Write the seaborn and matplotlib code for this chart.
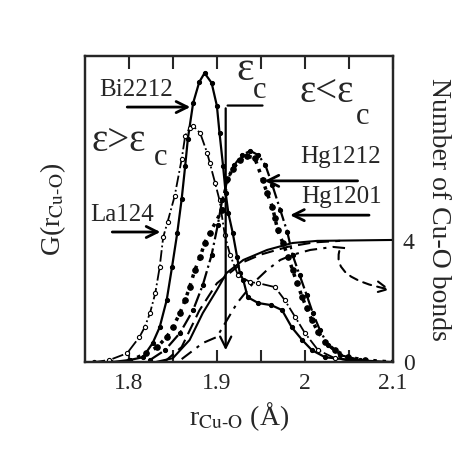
import numpy as np
import pandas as pd
import matplotlib
matplotlib.use('Agg')
import matplotlib.pyplot as plt
import seaborn as sns

# G(r) curves (left axis, arbitrary units)
bi_x = [1.78, 1.801, 1.816, 1.827, 1.835, 1.843, 1.849, 1.855, 1.860, 1.864, 1.867, 1.873, 1.880, 1.886,
        1.894, 1.900, 1.903, 1.907, 1.910, 1.913, 1.918, 1.923, 1.926, 1.930, 1.935, 1.947, 1.962, 1.974,
        1.985, 1.997, 2.008, 2.023, 2.053, 2.1]
bi_g = [0.0, 0.007, 0.016, 0.062, 0.114, 0.203, 0.310, 0.422, 0.533, 0.641, 0.729, 0.846, 0.915, 0.944,
        0.912, 0.837, 0.748, 0.641, 0.552, 0.487, 0.422, 0.343, 0.291, 0.268, 0.212, 0.193, 0.186, 0.170,
        0.114, 0.072, 0.039, 0.016, 0.007, 0.0]

la_x = [1.76, 1.778, 1.798, 1.812, 1.818, 1.824, 1.830, 1.835, 1.839, 1.844, 1.852, 1.860, 1.864, 1.869,
        1.873, 1.881, 1.889, 1.892, 1.898, 1.903, 1.909, 1.915, 1.924, 1.938, 1.947, 1.966, 1.977, 1.989,
        2.000, 2.015, 2.034, 2.06]
la_g = [0.0, 0.007, 0.029, 0.082, 0.114, 0.160, 0.225, 0.310, 0.408, 0.458, 0.542, 0.663, 0.739, 0.765,
        0.771, 0.748, 0.683, 0.650, 0.585, 0.529, 0.415, 0.350, 0.284, 0.261, 0.258, 0.245, 0.203, 0.147,
        0.095, 0.039, 0.013, 0.0]

hg12_x = [1.80, 1.820, 1.832, 1.843, 1.850, 1.858, 1.864, 1.869, 1.875, 1.881, 1.886, 1.892, 1.906, 1.912,
          1.918, 1.926, 1.934, 1.943, 1.952, 1.957, 1.963, 1.966, 1.969, 1.975, 1.981, 1.986, 1.991, 1.997,
          2.002, 2.008, 2.015, 2.023, 2.034, 2.049, 2.068, 2.1]
hg12_g = [0.003, 0.029, 0.049, 0.082, 0.114, 0.160, 0.203, 0.245, 0.301, 0.343, 0.389, 0.422, 0.497, 0.598,
          0.631, 0.660, 0.673, 0.667, 0.595, 0.552, 0.507, 0.471, 0.431, 0.389, 0.343, 0.301, 0.258, 0.212,
          0.176, 0.137, 0.098, 0.065, 0.039, 0.016, 0.007, 0.0]

hg01_x = [1.824, 1.841, 1.858, 1.873, 1.884, 1.894, 1.901, 1.906, 1.912, 1.920, 1.928, 1.938, 1.947, 1.955,
          1.963, 1.972, 1.980, 1.986, 1.994, 2.002, 2.009, 2.017, 2.026, 2.040, 2.063]
hg01_g = [0.007, 0.039, 0.095, 0.170, 0.252, 0.350, 0.448, 0.529, 0.595, 0.644, 0.676, 0.690, 0.676, 0.644,
          0.578, 0.497, 0.425, 0.350, 0.284, 0.219, 0.160, 0.105, 0.056, 0.023, 0.007]

# number of Cu-O bonds (right axis)
n1_x = [1.83, 1.850, 1.869, 1.884, 1.900, 1.911, 1.930, 1.957, 1.986, 2.014, 2.1]
n1_n = [0.0, 0.13, 0.73, 1.62, 2.38, 2.94, 3.37, 3.70, 3.93, 4.0, 4.03]

n2_x = [1.84, 1.86, 1.88, 1.90, 1.93, 1.95, 1.98, 2.01, 2.04]
n2_n = [0.0, 0.5, 1.7, 2.6, 3.3, 3.55, 3.8, 3.95, 4.0]

n3_x = [1.86, 1.884, 1.900, 1.923, 1.941, 1.957, 1.972, 1.986, 2.006, 2.032, 2.05]
n3_n = [0.1, 0.63, 0.83, 1.95, 2.6, 3.04, 3.37, 3.54, 3.7, 3.8, 3.75]

x_ticks = [1.8, 1.9, 2.0, 2.1]
x_ticklabels = ['1.8', '1.9', '2', '2.1']

sns.set_style('ticks')
plt.rcParams['font.family'] = ['Liberation Serif', 'DejaVu Serif']
plt.rcParams['mathtext.fontset'] = 'stix'

fig = plt.figure(figsize=(4.74, 4.74), dpi=100)
ax = fig.add_axes([0.179, 0.236, 0.650, 0.646])
ax2 = ax.twinx()

k = 'black'
sns.lineplot(x=bi_x, y=bi_g, ax=ax, color=k, lw=1.6, marker='o', markersize=3, mec=k, estimator=None)
sns.lineplot(x=la_x, y=la_g, ax=ax, color=k, lw=1.3, linestyle='-.', marker='o', markersize=3,
             mfc='white', mec=k, mew=0.8, estimator=None)
sns.lineplot(x=hg12_x, y=hg12_g, ax=ax, color=k, lw=2.5, linestyle=':', marker='o', markersize=4,
             mec=k, estimator=None)
sns.lineplot(x=hg01_x, y=hg01_g, ax=ax, color=k, lw=1.6, linestyle='-.', marker='o', markersize=3,
             mec=k, estimator=None)

sns.lineplot(x=n1_x, y=n1_n, ax=ax2, color=k, lw=1.5, estimator=None)
sns.lineplot(x=n2_x, y=n2_n, ax=ax2, color=k, lw=1.5, linestyle=(0, (6, 3)), estimator=None)
sns.lineplot(x=n3_x, y=n3_n, ax=ax2, color=k, lw=1.5, linestyle=(0, (6, 3, 1.5, 3)), estimator=None)

ax.set_xlim(1.75, 2.1)
ax.set_ylim(0, 1)
ax2.set_ylim(0, 10.1)

ax.set_xticks(x_ticks)
ax.set_xticklabels(x_ticklabels)
ax.set_xticks(np.arange(1.8, 2.1, 0.05), minor=True)
ax.set_yticks([])
ax.tick_params(axis='x', which='both', direction='in', top=True, length=9, width=1.5,
               labelsize=17, pad=8)
ax2.set_yticks([0, 4])
ax2.tick_params(axis='y', direction='in', length=0, labelsize=17, pad=7)

for a in (ax, ax2):
    for s in a.spines.values():
        s.set_linewidth(1.6)
        s.set_visible(True)

ax.set_xlabel(r'r$_{\text{Cu-O}}$ (Å)', fontsize=20, labelpad=4)
ax.set_ylabel(r'G(r$_{\text{Cu-O}}$)', fontsize=20, labelpad=12)
ax2.set_ylabel('Number of Cu-O bonds', fontsize=20, rotation=-90, labelpad=26)

# labels and arrows
arr = dict(arrowstyle='->', lw=2, color=k, mutation_scale=20)
ax.text(1.808, 0.889, 'Bi2212', fontsize=18, ha='center', va='center')
ax.annotate('', xy=(1.873, 0.833), xytext=(1.795, 0.833), arrowprops=arr)
ax.text(1.792, 0.480, 'La124', fontsize=18, ha='center', va='center')
ax.annotate('', xy=(1.839, 0.425), xytext=(1.778, 0.425), arrowprops=arr)
ax.text(2.040, 0.670, 'Hg1212', fontsize=18, ha='center', va='center')
ax.annotate('', xy=(1.951, 0.592), xytext=(2.063, 0.592), arrowprops=arr)
ax.text(2.042, 0.539, 'Hg1201', fontsize=18, ha='center', va='center')
ax.annotate('', xy=(1.980, 0.480), xytext=(2.076, 0.480), arrowprops=arr)

ax.text(1.757, 0.722, 'ε>ε', fontsize=28, ha='left', va='center')
ax.text(1.836, 0.668, 'c', fontsize=22, ha='center', va='center')
ax.text(1.932, 0.955, 'ε', fontsize=30, ha='center', va='center')
ax.text(1.948, 0.888, 'c', fontsize=22, ha='center', va='center')
ax.text(2.025, 0.880, 'ε<ε', fontsize=28, ha='center', va='center')
ax.text(2.066, 0.803, 'c', fontsize=22, ha='center', va='center')

# epsilon_c marker
ax.annotate('', xy=(1.910, 0.03), xytext=(1.910, 0.838),
            arrowprops=dict(arrowstyle='->', lw=1.6, color=k, mutation_scale=20))
ax.annotate('', xy=(1.955, 0.838), xytext=(1.909, 0.838),
            arrowprops=dict(arrowstyle='-', lw=1.6, color=k))

# dashed arrow to the right axis
ax2.annotate('', xy=(2.1, 2.38), xytext=(2.04, 3.75),
             arrowprops=dict(arrowstyle='->', lw=1.5, color=k, linestyle=(0, (4, 3)),
                             connectionstyle='angle3,angleA=-110,angleB=-10', mutation_scale=20))

fig.savefig('out.png', dpi=100)
